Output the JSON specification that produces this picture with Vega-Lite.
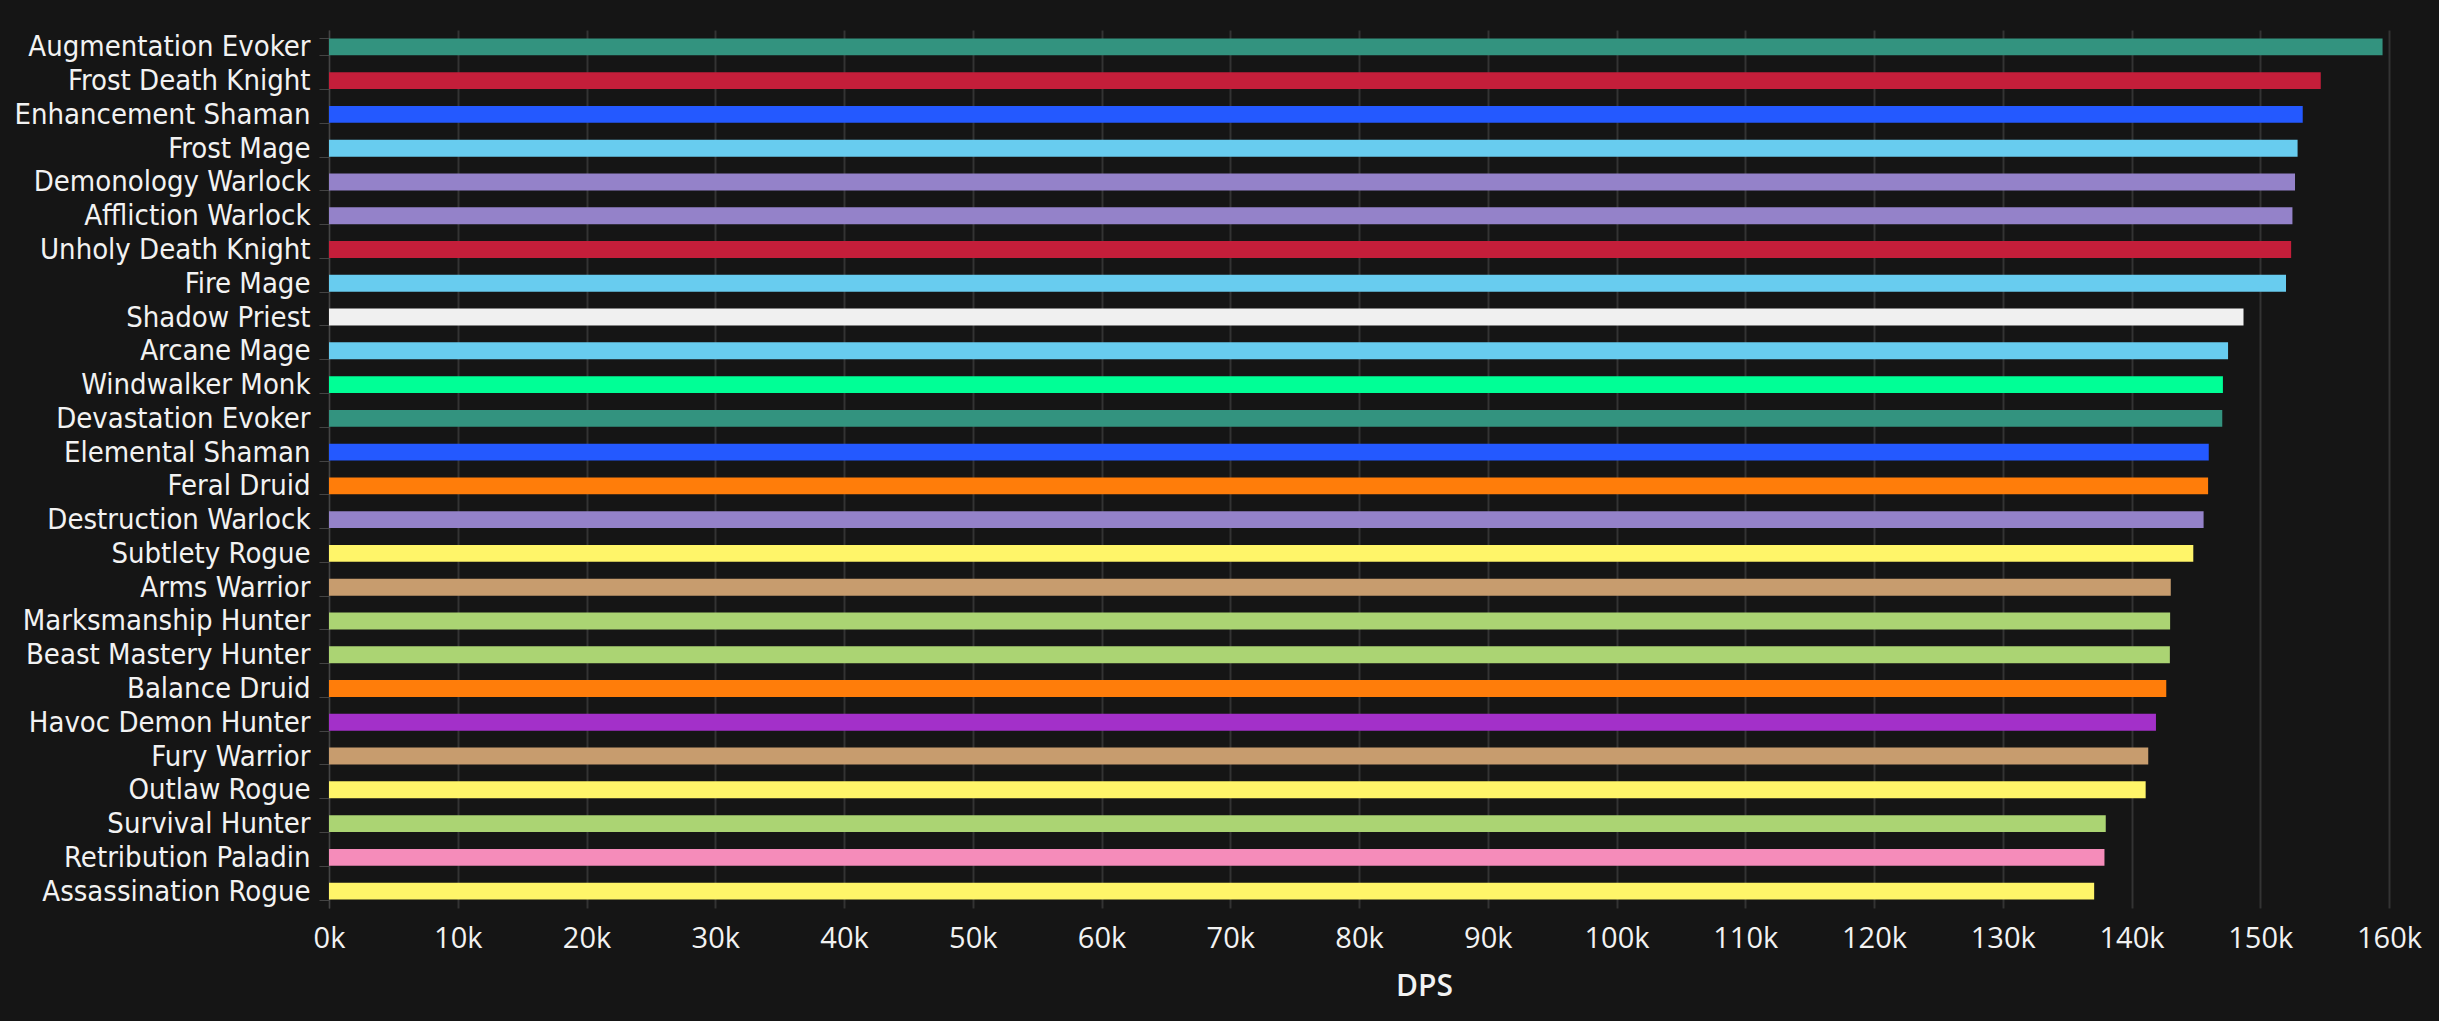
{
  "$schema": "https://vega.github.io/schema/vega-lite/v6.json",
  "description": "DPS by specialization",
  "autosize": {"type": "none"},
  "width": 2060,
  "height": 878,
  "padding": {"left": 329, "top": 30, "right": 50, "bottom": 113},
  "background": "#151515",
  "title": {
    "text": "Zoom",
    "anchor": "start",
    "color": "#060606",
    "font": "Open Sans",
    "fontSize": 29,
    "fontWeight": "normal",
    "offset": 17,
    "dx": 3
  },
  "data": {
    "values": [
      {"spec": "Augmentation Evoker", "cls": "Evoker", "dps": 159500},
      {"spec": "Frost Death Knight", "cls": "Death Knight", "dps": 154700},
      {"spec": "Enhancement Shaman", "cls": "Shaman", "dps": 153300},
      {"spec": "Frost Mage", "cls": "Mage", "dps": 152900},
      {"spec": "Demonology Warlock", "cls": "Warlock", "dps": 152700},
      {"spec": "Affliction Warlock", "cls": "Warlock", "dps": 152500},
      {"spec": "Unholy Death Knight", "cls": "Death Knight", "dps": 152400},
      {"spec": "Fire Mage", "cls": "Mage", "dps": 152000},
      {"spec": "Shadow Priest", "cls": "Priest", "dps": 148700},
      {"spec": "Arcane Mage", "cls": "Mage", "dps": 147500},
      {"spec": "Windwalker Monk", "cls": "Monk", "dps": 147100},
      {"spec": "Devastation Evoker", "cls": "Evoker", "dps": 147050},
      {"spec": "Elemental Shaman", "cls": "Shaman", "dps": 146000},
      {"spec": "Feral Druid", "cls": "Druid", "dps": 145950},
      {"spec": "Destruction Warlock", "cls": "Warlock", "dps": 145600},
      {"spec": "Subtlety Rogue", "cls": "Rogue", "dps": 144800},
      {"spec": "Arms Warrior", "cls": "Warrior", "dps": 143050},
      {"spec": "Marksmanship Hunter", "cls": "Hunter", "dps": 143000},
      {"spec": "Beast Mastery Hunter", "cls": "Hunter", "dps": 142980},
      {"spec": "Balance Druid", "cls": "Druid", "dps": 142700},
      {"spec": "Havoc Demon Hunter", "cls": "Demon Hunter", "dps": 141900},
      {"spec": "Fury Warrior", "cls": "Warrior", "dps": 141300},
      {"spec": "Outlaw Rogue", "cls": "Rogue", "dps": 141100},
      {"spec": "Survival Hunter", "cls": "Hunter", "dps": 138000},
      {"spec": "Retribution Paladin", "cls": "Paladin", "dps": 137900},
      {"spec": "Assassination Rogue", "cls": "Rogue", "dps": 137100}
    ]
  },
  "mark": {"type": "bar"},
  "encoding": {
    "y": {
      "field": "spec",
      "type": "nominal",
      "sort": null,
      "scale": {"paddingInner": 0.5},
      "axis": {
        "title": null,
        "grid": false,
        "tickBand": "extent",
        "tickSize": 10,
        "tickColor": "#444444",
        "domainColor": "#444444",
        "labelPadding": 9,
        "labelFont": "DejaVu Sans Condensed, Liberation Sans Narrow, Noto Sans",
        "labelFontSize": 29,
        "labelColor": "#f2f2f2",
        "labelLimit": 400
      }
    },
    "x": {
      "field": "dps",
      "type": "quantitative",
      "scale": {"domain": [0, 160000], "nice": false},
      "axis": {
        "title": "DPS",
        "values": [0, 10000, 20000, 30000, 40000, 50000, 60000, 70000, 80000, 90000, 100000, 110000, 120000, 130000, 140000, 150000, 160000],
        "labelExpr": "format(datum.value / 1000, 'd') + 'k'",
        "labelFlush": false,
        "labelOverlap": false,
        "grid": true,
        "gridColor": "#333333",
        "gridWidth": 2,
        "domain": false,
        "ticks": false,
        "tickSize": 0,
        "labelPadding": 16,
        "labelFont": "Open Sans",
        "labelFontSize": 29,
        "labelColor": "#f2f2f2",
        "titleFont": "Open Sans",
        "titleFontSize": 30,
        "titleFontWeight": 600,
        "titleColor": "#f2f2f2",
        "titleX": 1095,
        "titleY": 87,
        "titleBaseline": "alphabetic"
      }
    },
    "color": {
      "field": "cls",
      "type": "nominal",
      "legend": null,
      "scale": {
        "domain": ["Evoker", "Death Knight", "Shaman", "Mage", "Warlock", "Priest", "Monk", "Druid", "Demon Hunter", "Rogue", "Warrior", "Hunter", "Paladin"],
        "range": ["#33937F", "#C41E3A", "#2459FF", "#68CCEF", "#9482C9", "#F0F0F0", "#00FF96", "#FF7D0A", "#A330C9", "#FFF569", "#C79C6E", "#ABD473", "#F58CBA"]
      }
    }
  },
  "config": {
    "view": {"stroke": null}
  }
}
